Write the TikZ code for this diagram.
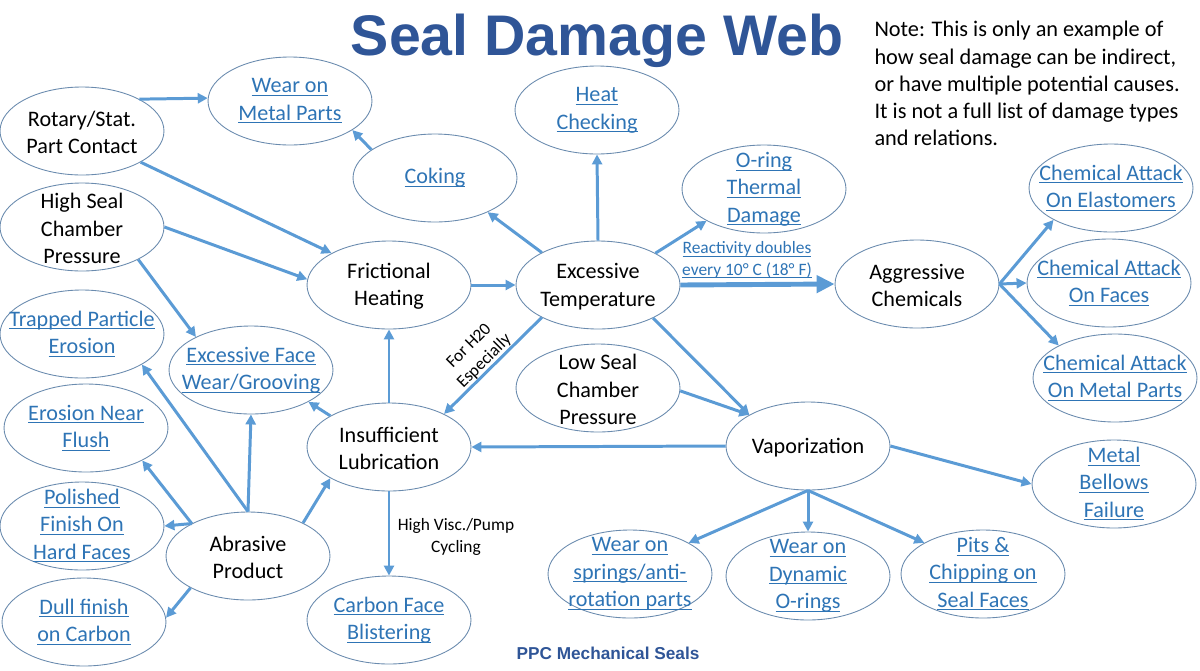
\documentclass[tikz,border=0pt]{standalone}
\usepackage{fontspec}
\setmainfont{Carlito}
\newfontfamily\headfont{Liberation Sans}
\usetikzlibrary{shapes.geometric,arrows.meta}
\definecolor{arrowblue}{HTML}{5B9BD5}
\definecolor{linkblue}{HTML}{2E74B5}
\definecolor{rimblue}{HTML}{6A8BAE}
\definecolor{headblue}{HTML}{2F5597}
\newcommand{\lnk}[1]{\underline{\raisebox{0pt}[\height][0pt]{#1}}}

\begin{document}
\begin{tikzpicture}[x=0.02cm, y=-0.02cm,
    -{Triangle[length=2mm,width=2mm]}, line width=1.7pt, draw=arrowblue,
    blob/.style={ellipse, draw=rimblue, line width=0.5pt, minimum width=3.28cm, minimum height=1.76cm, inner sep=0pt},
    cause/.style={blob, label={[font=\fontsize{12.6}{15.6}\selectfont, align=center, yshift=-0.03cm]center:#1}},
    damage/.style={blob, label={[font=\fontsize{12.6}{15.6}\selectfont, align=center, text=linkblue]center:#1}},
    hint/.style={font=\fontsize{9.9}{12.3}\selectfont, align=center, inner sep=0pt},
    bold/.style={line width=2.8pt, -{Triangle[length=3.6mm,width=3.4mm]}}]
  \useasboundingbox (0,0) rectangle (1200,670);

  \node[font=\headfont\bfseries\fontsize{32.6}{38}\selectfont, text=headblue] (ttl) at (597,41) {Seal Damage Web};
  \node[anchor=north west, align=left, inner sep=0pt, font=\fontsize{12.7}{15.5}\selectfont] (nte) at (873,20)
    {Note: This is only an example of\\how seal damage can be indirect,\\or have multiple potential causes.\\It is not a full list of damage types\\and relations.};
  \node[font=\headfont\bfseries\fontsize{9.8}{12}\selectfont, text=headblue] (ppc) at (608,653) {PPC Mechanical Seals};

  \node[cause={Rotary/Stat.\\Part Contact}] (rot) at (82,131) {};
  \node[damage={\lnk{Wear on}\\\lnk{Metal Parts}}] (wmp) at (290,101) {};
  \node[cause={High Seal\\Chamber\\Pressure}] (hsp) at (82,227) {};
  \node[damage={\lnk{Coking}}] (cok) at (435,178) {};
  \node[damage={\lnk{Heat}\\\lnk{Checking}}] (hch) at (597,110) {};
  \node[damage={\lnk{O-ring}\\\lnk{Thermal}\\\lnk{Damage}}] (otd) at (764,189) {};
  \node[cause={Frictional\\Heating}] (frh) at (389,285) {};
  \node[cause={Excessive\\Temperature}] (ext) at (598,285) {};
  \node[cause={Aggressive\\Chemicals}] (agc) at (917,284) {};
  \node[damage={\lnk{Chemical Attack}\\\lnk{On Elastomers}}] (cae) at (1111,188) {};
  \node[damage={\lnk{Chemical Attack}\\\lnk{On Faces}}] (caf) at (1109,283) {};
  \node[damage={\lnk{Chemical Attack}\\\lnk{On Metal Parts}}] (cam) at (1115,378) {};
  \node[damage={\lnk{Trapped Particle}\\\lnk{Erosion}}] (tpe) at (82,334) {};
  \node[damage={\lnk{Excessive Face}\\\lnk{Wear/Grooving}}] (efw) at (251,370) {};
  \node[damage={\lnk{Erosion Near}\\\lnk{Flush}}] (enf) at (86,428) {};
  \node[cause={Insufficient\\Lubrication}] (inl) at (389,447) {};
  \node[damage={\lnk{Polished}\\\lnk{Finish On}\\\lnk{Hard Faces}}] (pfh) at (82,526) {};
  \node[cause={Abrasive\\Product}] (abr) at (248,556) {};
  \node[damage={\lnk{Dull finish}\\\lnk{on Carbon}}] (dfc) at (84,622) {};
  \node[damage={\lnk{Carbon Face}\\\lnk{Blistering}}] (cfb) at (389,620) {};
  \node[cause={Low Seal\\Chamber\\Pressure}] (lsp) at (598,388) {};
  \node[cause={Vaporization}] (vap) at (808,446) {};
  \node[damage={\lnk{Metal}\\\lnk{Bellows}\\\lnk{Failure}}] (mbf) at (1114,484) {};
  \node[damage={\lnk{Wear on}\\\lnk{springs/anti-}\\\lnk{rotation parts}}] (wsp) at (630,574) {};
  \node[damage={\lnk{Wear on}\\\lnk{Dynamic}\\\lnk{O-rings}}] (wdo) at (808,576) {};
  \node[damage={\lnk{Pits \&}\\\lnk{Chipping on}\\\lnk{Seal Faces}}] (pcs) at (983,574) {};

  \node[hint, text=linkblue] (rct) at (747,260) {\lnk{Reactivity doubles}\\\lnk{every 10° C (18° F)}};
  \node[hint, rotate=45] (hto) at (477,354) {For H20\\Especially};
  \node[hint] (hvp) at (456,537) {High Visc./Pump\\Cycling};

  \draw (rot.29) to (wmp.178);
  \draw (cok.156) to (wmp.-25);
  \draw (rot.-28) to (frh.151);
  \draw (hsp.0) to (frh.176);
  \draw (hsp.-30) to (efw.149);
  \draw (frh.0) to (ext.180);
  \draw (ext.150) to (cok.-33);
  \draw (ext.90) to (hch.-90);
  \draw (ext.29) to (otd.-151);
  \draw[bold] (ext.0) to (agc.180);
  \draw (ext.-150) to (inl.31);
  \draw (ext.-31) to (vap.152);
  \draw (agc.0) to (cae.-151);
  \draw (agc.0) to (caf.180);
  \draw (agc.0) to (cam.150);
  \draw (lsp.-2) to (vap.152);
  \draw (vap.180) to (inl.0);
  \draw (vap.0) to (mbf.180);
  \draw (vap.-90) to (wsp.28);
  \draw (vap.-90) to (wdo.90);
  \draw (vap.-90) to (pcs.152);
  \draw (inl.90) to (frh.-90);
  \draw (inl.152) to (efw.-29);
  \draw (inl.-90) to (cfb.90);
  \draw (abr.90) to (tpe.-27);
  \draw (abr.90) to (efw.-90);
  \draw (abr.150) to (enf.-30);
  \draw (abr.150) to (pfh.0);
  \draw (abr.209) to (dfc.3);
  \draw (abr.31) to (inl.-152);
\end{tikzpicture}
\end{document}
